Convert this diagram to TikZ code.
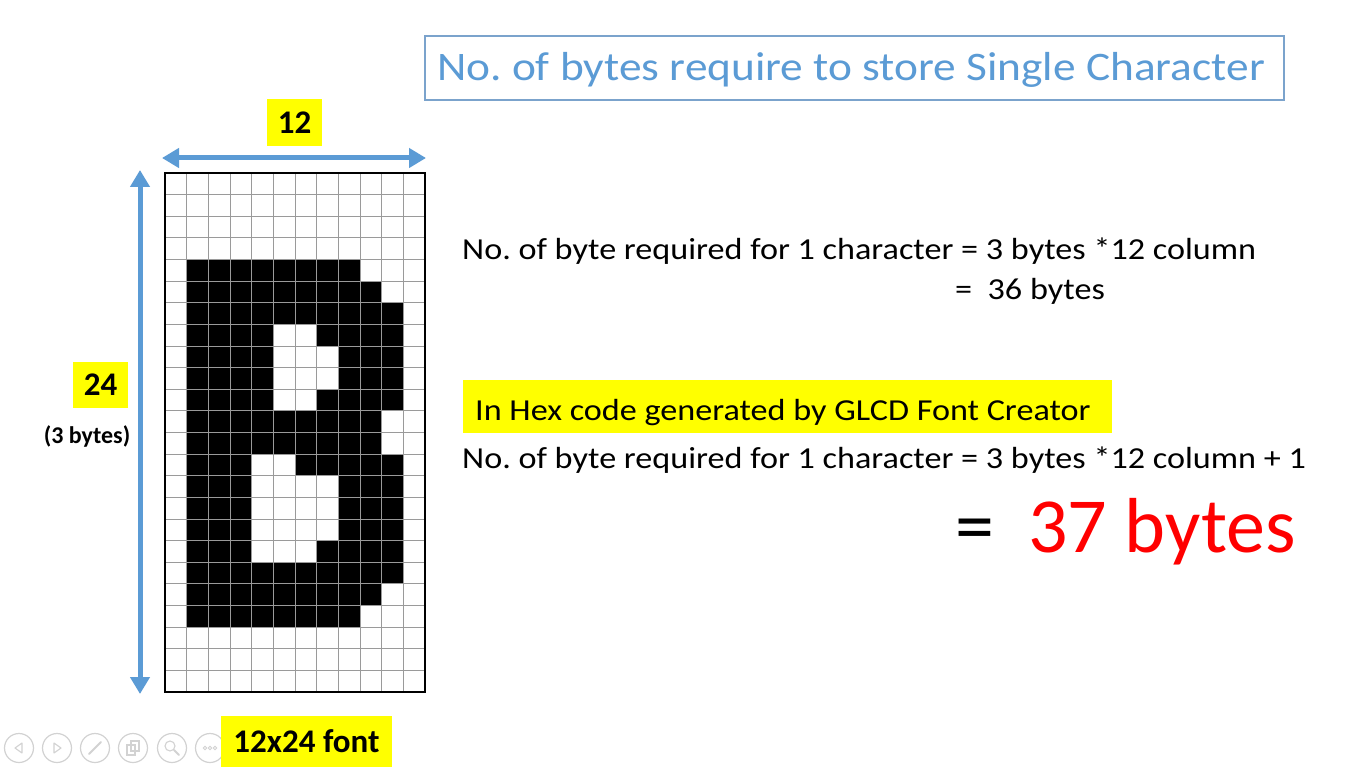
\documentclass[tikz,border=0pt]{standalone}
\usepackage{fontspec}
\setmainfont{Carlito}
\newfontfamily\widefont{Carlito}[FakeStretch=1.12]
\usetikzlibrary{arrows.meta}
\definecolor{arrowblue}{HTML}{5B9BD5}
\definecolor{titleblue}{HTML}{5B9BD5}
\definecolor{boxline}{HTML}{7BA3CC}
\definecolor{hlyellow}{HTML}{FFFF00}
\definecolor{gridgray}{HTML}{9A9A9A}
\definecolor{navgray}{HTML}{D2D2D2}
\definecolor{redtext}{HTML}{FF0000}
\tikzset{
  hl/.style={fill=hlyellow, inner sep=0pt},
  bodytext/.style={anchor=base west, inner sep=0pt, font=\widefont\fontsize{30.5}{36}\selectfont},
  dimarrow/.style={draw=arrowblue, line width=5pt, {Triangle[length=17pt,width=19pt]}-{Triangle[length=17pt,width=19pt]}},
  navcirc/.style={draw=navgray, line width=1.2pt, circle, minimum size=29pt, inner sep=0pt},
  navglyph/.style={draw=navgray, line width=1.1pt}
}
\frenchspacing
\begin{document}
\begin{tikzpicture}[x=1pt,y=-1pt]
\useasboundingbox[fill=white] (0,0) rectangle (1365,767);

% ---- title ----
\node[draw=boxline, line width=1.3pt, minimum width=859pt, minimum height=64pt, inner sep=0pt] (titlebox) at (854.5,68) {};
\node[anchor=base west, inner sep=0pt, text=titleblue, font=\widefont\fontsize{40.5}{48}\selectfont] (title) at (437,81) {No. of bytes require to store Single Character};

% ---- pixel grid ----
\def\cw{21.6667}
\def\ch{21.625}
\foreach \r/\a/\b in {4/1/8, 5/1/9, 6/1/10, 7/1/4, 7/7/10, 8/1/4, 8/8/10, 9/1/4, 9/8/10,
  10/1/4, 10/7/10, 11/1/9, 12/1/9, 13/1/3, 13/6/10, 14/1/3, 14/8/10, 15/1/3, 15/8/10,
  16/1/3, 16/8/10, 17/1/3, 17/7/10, 18/1/10, 19/1/9, 20/1/8}
  \fill[black] ({165+\a*\cw},{173+\r*\ch}) rectangle ({165+(\b+1)*\cw},{173+(\r+1)*\ch});
\foreach \i in {1,...,11}
  \draw[gridgray, line width=1pt] ({165+\i*\cw},173) -- ({165+\i*\cw},692);
\foreach \j in {1,...,23}
  \draw[gridgray, line width=1pt] (165,{173+\j*\ch}) -- (425,{173+\j*\ch});
\node[draw=black, line width=2pt, minimum width=260pt, minimum height=519pt, inner sep=0pt] (grid) at (295,432.5) {};

% ---- dimension arrows ----
\coordinate (hl) at (162,158);
\coordinate (hr) at (426,158);
\coordinate (vt) at (140,170);
\coordinate (vb) at (140,694);
\draw[dimarrow] (hl) -- (hr);
\draw[dimarrow] (vt) -- (vb);

\node[hl, minimum width=55pt, minimum height=47pt, font=\bfseries\fontsize{33}{40}\selectfont] (w12) at (294.5,122.5) {12};
\node[hl, minimum width=55pt, minimum height=46pt, font=\bfseries\fontsize{33}{40}\selectfont] (h24) at (100.5,385) {24};
\node[inner sep=0pt, font=\bfseries\fontsize{24}{28}\selectfont] (bytes3) at (87,436) {(3 bytes)};

% ---- slide-show controls ----
\node[navcirc] (n1) at (19,748) {};
\node[navcirc] (n2) at (57,748) {};
\node[navcirc] (n3) at (95,748) {};
\node[navcirc] (n4) at (133,748) {};
\node[navcirc] (n5) at (172,748) {};
\node[navcirc] (n6) at (210,748) {};
\draw[navglyph, line join=round] ([xshift=3pt,yshift=-5pt]n1.center) -- ([xshift=-4pt]n1.center) -- ([xshift=3pt,yshift=5pt]n1.center) -- cycle;
\draw[navglyph, line join=round] ([xshift=-3pt,yshift=-5pt]n2.center) -- ([xshift=4pt]n2.center) -- ([xshift=-3pt,yshift=5pt]n2.center) -- cycle;
\draw[navglyph, line width=2pt, line cap=round] ([xshift=-6pt,yshift=-6pt]n3.center) -- ([xshift=6pt,yshift=6pt]n3.center);
\draw[navglyph] ([xshift=-6pt,yshift=-7pt]n4.center) rectangle ([xshift=2pt,yshift=3pt]n4.center);
\draw[navglyph] ([xshift=-2pt,yshift=-3pt]n4.center) rectangle ([xshift=6pt,yshift=7pt]n4.center);
\draw[navglyph] ([xshift=-2pt,yshift=2pt]n5.center) circle (5pt);
\draw[navglyph, line width=2pt, line cap=round] ([xshift=2pt,yshift=-2pt]n5.center) -- ([xshift=7pt,yshift=-7pt]n5.center);
\foreach \dx in {-5,0,5}
  \draw[navglyph, line width=0.8pt] ([xshift=\dx pt]n6.center) circle (1.8pt);

\node[hl, minimum width=171pt, minimum height=51pt, font=\bfseries\fontsize{33}{40}\selectfont] (fontlbl) at (306.5,741.5) {12x24 font};

% ---- right-hand texts ----
\node[bodytext] (line1) at (462,260) {No. of byte required for 1 character = 3 bytes *12 column};
\node[bodytext] (line2) at (955,299) {=\ \ 36 bytes};

\node[hl, minimum width=649pt, minimum height=53pt, anchor=north west] (hexbox) at (463,380) {};
\node[bodytext] (hextext) at (475,420) {In Hex code generated by GLCD Font Creator};
\node[bodytext] (line3) at (462,468) {No. of byte required for 1 character = 3 bytes *12 column + 1};

\node[anchor=base west, inner sep=0pt, font=\fontsize{78}{94}\selectfont] (eq) at (955,552) {=};
\node[anchor=base west, inner sep=0pt, text=redtext, font=\fontsize{78}{94}\selectfont] (res) at (1028,552) {37 bytes};
\end{tikzpicture}
\end{document}
